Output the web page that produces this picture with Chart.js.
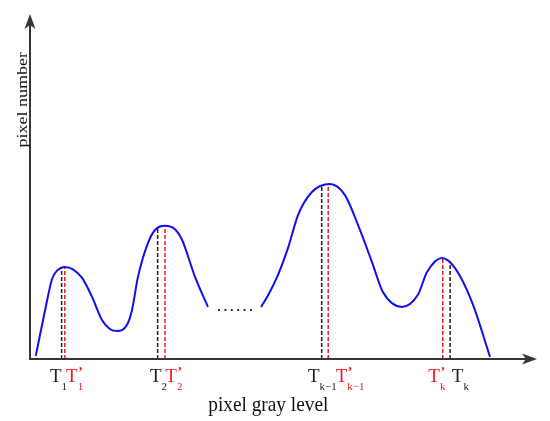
<!DOCTYPE html>
<html>
<head>
<meta charset="utf-8">
<script src="https://cdn.jsdelivr.net/npm/chart.js@4.4.0/dist/chart.umd.min.js"></script>
<style>
    body { margin: 0; background: #fff; }
    canvas { display: block; }
</style>
</head>
<body>
<canvas id="histChart" width="550" height="421"></canvas>
<script>
// Histogram curve (gray level 0-255, pixel count 0-100)
const seg1X = [2.9, 7.5, 11.1, 13.6, 17.6, 21.6, 26.2, 31.2, 36.2, 40.2, 43.8, 48.8, 51.3, 54.3, 59.3, 62.9, 67.9, 72.9, 76.5, 83.0, 89.5];
const seg1Y = [0.9, 13.9, 23.2, 25.6, 26.7, 26.0, 23.5, 18.0, 11.3, 8.7, 8.1, 9.9, 14.2, 23.8, 33.6, 37.4, 38.6, 37.6, 34.5, 23.8, 15.1];
const seg2X = [116.2, 119.9, 124.7, 129.8, 134.8, 141.8, 150.9, 158.4, 165.0, 172.0, 177.5, 187.1, 195.1, 199.7, 207.2, 213.7, 222.3, 231.4];
const seg2Y = [15.1, 18.6, 24.3, 32.2, 41.7, 48.4, 50.7, 47.5, 38.8, 28.1, 19.4, 15.1, 18.6, 25.2, 29.3, 26.4, 16.5, 0.6];

// the "......" gap between the two parts
const gapX = [94.6, 111.7];
const gapY = [14.2, 14.2];

// thresholds T (black) and T' (red)
const threshX = [15.9, 64.2, 146.7, 211.3];
const threshY = [26.4, 38.0, 50.1, 28.4];
const refinedX = [17.5, 67.9, 150.0, 207.6];
const refinedY = [26.7, 38.6, 50.7, 29.3];
const subLabels = ['1', '2', 'k\u22121', 'k'];

const xTitle = 'pixel gray level';
const yTitle = 'pixel number';

const BLUE = '#0f0ff0';
const RED = '#ed1c24';
const DARK = '#232020';
const AXIS = '#3a3434';
const FONT = '"Liberation Serif", "Times New Roman", serif';

// pixel offsets of each label from its dashed line
const blackLabelShift = [-11.7, -7.7, -13.7, 1.7];
const redLabelShift = [1.3, 0.3, 7.4, -14.4];

function pts(xs, ys) {
    return xs.map((x, i) => ({ x: x, y: ys[i] }));
}

const datasets = [
    { data: pts(seg1X, seg1Y), borderColor: BLUE, borderWidth: 2, cubicInterpolationMode: 'monotone' },
    { data: pts(seg2X, seg2Y), borderColor: BLUE, borderWidth: 2, cubicInterpolationMode: 'monotone' },
    { data: pts(gapX, gapY), borderColor: DARK, borderWidth: 1.8, borderDash: [1.8, 4.6] }
];

threshX.forEach((x, i) => {
    datasets.push({ data: [{ x: x, y: 0 }, { x: x, y: threshY[i] }], borderColor: DARK, borderWidth: 1.5, borderDash: [4, 2] });
    datasets.push({ data: [{ x: refinedX[i], y: 0 }, { x: refinedX[i], y: refinedY[i] }], borderColor: RED, borderWidth: 1.5, borderDash: [4, 2] });
});

// Axes with arrow heads
const axisPlugin = {
    id: 'arrowAxes',
    afterDatasetsDraw(chart) {
        const ctx = chart.ctx;
        const x0 = chart.scales.x.getPixelForValue(0);
        const x1 = chart.scales.x.getPixelForValue(255);
        const y0 = chart.scales.y.getPixelForValue(0);
        const y1 = chart.scales.y.getPixelForValue(100);
        ctx.save();
        ctx.strokeStyle = AXIS;
        ctx.fillStyle = AXIS;
        ctx.lineWidth = 2;
        ctx.beginPath();
        ctx.moveTo(x0, y1 + 10);
        ctx.lineTo(x0, y0);
        ctx.lineTo(x1 - 10, y0);
        ctx.stroke();

        // x arrow
        ctx.beginPath();
        ctx.moveTo(x1, y0);
        ctx.lineTo(x1 - 15, y0 - 5.5);
        ctx.lineTo(x1 - 11, y0);
        ctx.lineTo(x1 - 15, y0 + 5.5);
        ctx.closePath();
        ctx.fill();

        // y arrow
        ctx.beginPath();
        ctx.moveTo(x0, y1);
        ctx.lineTo(x0 - 5.5, y1 + 15);
        ctx.lineTo(x0, y1 + 11);
        ctx.lineTo(x0 + 5.5, y1 + 15);
        ctx.closePath();
        ctx.fill();
        ctx.restore();
    }
};

function drawT(ctx, x, color, sub, prime) {
    ctx.fillStyle = color;
    ctx.textAlign = 'left';
    ctx.textBaseline = 'alphabetic';
    ctx.font = '19px ' + FONT;
    ctx.fillText('T', x, 382);
    const w = ctx.measureText('T').width;
    ctx.font = '11px ' + FONT;
    ctx.fillText(sub, x + w, 389.5);
    if (prime) {
        ctx.font = 'bold 14px ' + FONT;
        ctx.fillText('\u2019', x + w + 0.5, 377);
    }
}

const labelPlugin = {
    id: 'labels',
    afterDraw(chart) {
        const ctx = chart.ctx;
        const sx = chart.scales.x;
        ctx.save();
        threshX.forEach((x, i) => {
            drawT(ctx, sx.getPixelForValue(x) + blackLabelShift[i], DARK, subLabels[i], false);
            drawT(ctx, sx.getPixelForValue(refinedX[i]) + redLabelShift[i], RED, subLabels[i], true);
        });

        ctx.fillStyle = '#111';
        ctx.textAlign = 'center';
        ctx.textBaseline = 'alphabetic';

        ctx.save();
        ctx.translate(268.3, 411);
        ctx.scale(0.92, 1);
        ctx.font = '21px ' + FONT;
        ctx.fillText(xTitle, 0, 0);
        ctx.restore();

        ctx.save();
        ctx.translate(26.5, 99.8);
        ctx.rotate(-Math.PI / 2);
        ctx.scale(1, 0.8);
        ctx.font = '18px ' + FONT;
        ctx.fillText(yTitle, 0, 0);
        ctx.restore();

        ctx.restore();
    }
};

new Chart(document.getElementById('histChart').getContext('2d'), {
    type: 'line',
    data: { datasets: datasets },
    options: {
        responsive: false,
        animation: false,
        devicePixelRatio: 1,
        layout: { padding: { left: 30, right: 13, top: 14, bottom: 62 } },
        elements: { point: { radius: 0 }, line: { fill: false } },
        datasets: { line: { clip: false } },
        scales: {
            x: { type: 'linear', min: 0, max: 255, display: false },
            y: { type: 'linear', min: 0, max: 100, display: false }
        },
        plugins: {
            legend: { display: false },
            title: { display: false },
            tooltip: { enabled: false }
        }
    },
    plugins: [axisPlugin, labelPlugin]
});
</script>
</body>
</html>
